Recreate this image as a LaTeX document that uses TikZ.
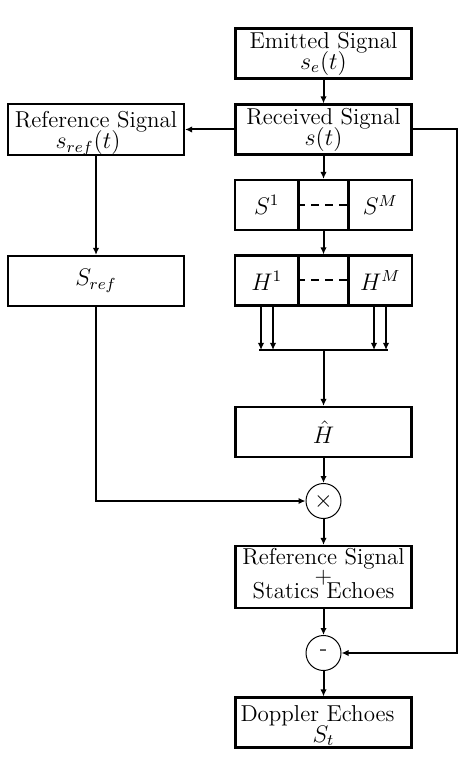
\documentclass[tikz,border=0pt]{standalone}
\usetikzlibrary{arrows.meta}
\lineskiplimit=-20pt
\begin{document}
\begin{tikzpicture}[x=0.5pt,y=-0.5pt,
  every node/.style={font=\fontsize{11.5}{10.5}\selectfont},
  box/.style={draw,line width=1.1pt,minimum width=88pt,minimum height=25pt,inner sep=0pt,align=center},
  part/.style={draw,line width=1.1pt,minimum height=25pt,inner sep=0pt},
  sumc/.style={draw,circle,line width=0.5pt,minimum size=17.5pt,inner sep=0pt},
  arr/.style={line width=1pt,-{Latex[length=3.5pt,width=3.2pt]}},
  ln/.style={line width=1pt},
  dashln/.style={line width=1pt,dash pattern=on 4pt off 3pt}]
\useasboundingbox (0,0) rectangle (474,769);

\node[box] (emit) at (323.5,53.5) {Emitted Signal\\$s_e(t)$};
\node[box] (recv) at (323.5,129.5) {Received Signal\\$s(t)$};
\node[box] (refs) at (96,129.5) {\rule{0pt}{11.8pt}Reference Signal\\$s_{ref}(t)$\hspace*{8pt}};

\node[part,minimum width=31.5pt] (S1) at (266.75,205) {$S^1$};
\node[part,minimum width=25pt] (Sd) at (323.5,205) {};
\node[part,minimum width=31.75pt] (SM) at (380.25,205) {$S^M$};
\draw[dashln] (Sd.west) -- (Sd.east);

\node[part,minimum width=31.5pt] (H1) at (266.75,280.5) {$H^1$};
\node[part,minimum width=25pt] (Hd) at (323.5,280.5) {};
\node[part,minimum width=31.75pt] (HM) at (380.25,280.5) {$H^M$};
\draw[dashln] (Hd.west) -- (Hd.east);

\node[box] (sref) at (96,281) {$S_{ref}$};

\coordinate (bl) at (259,350);
\coordinate (br) at (388,350);
\coordinate (bc) at (323.5,350);
\coordinate (b1) at (261,350);
\coordinate (b2) at (273,350);
\coordinate (b3) at (374,350);
\coordinate (b4) at (386,350);

\node[box] (hhat) at (323.5,432) {$\hat{H}$};
\node[sumc] (mul) at (323.5,501) {$\times$};
\node[box,minimum height=31pt] (comb) at (323.5,577) {Reference Signal\\[-1.25pt]+\\[-2.75pt]Statics Echoes\rule[-3.6pt]{0pt}{0pt}};
\node[sumc] (sub) at (323.5,653) {-};
\node[box] (dop) at (323.5,722.5) {\rule{0pt}{10.8pt}Doppler Echoes\hspace*{6pt}\\$S_t$};

\coordinate (rr) at (457,129.5);

\draw[arr] (emit) -- (recv);
\draw[arr] (recv) -- (refs);
\draw[arr] (recv) -- (Sd);
\draw[arr] (Sd) -- (Hd);
\draw[arr] (refs) -- (sref);
\draw[arr] (b1 |- H1.south) -- (b1);
\draw[arr] (b2 |- H1.south) -- (b2);
\draw[arr] (b3 |- HM.south) -- (b3);
\draw[arr] (b4 |- HM.south) -- (b4);
\draw[ln] (bl) -- (br);
\draw[arr] (bc) -- (hhat);
\draw[arr] (hhat) -- (mul);
\draw[arr] (sref.south) |- (mul.west);
\draw[arr] (mul) -- (comb);
\draw[arr] (comb) -- (sub);
\draw[arr] (sub) -- (dop);
\draw[arr] (recv.east) -- (rr) |- (sub.east);
\end{tikzpicture}
\end{document}
